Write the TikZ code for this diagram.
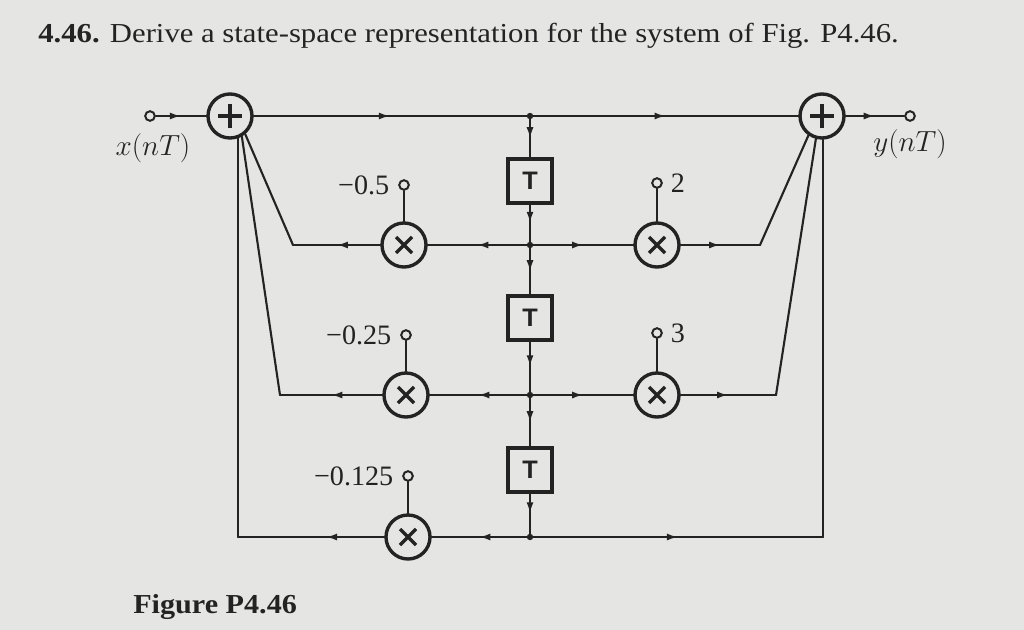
\documentclass[tikz,border=0pt]{standalone}
\usepackage{fontspec}
\setmainfont{Liberation Serif}
\setsansfont{Liberation Sans}
\usetikzlibrary{positioning,decorations.markings,arrows.meta}
\definecolor{paper}{RGB}{229,229,227}
\definecolor{ink}{RGB}{35,35,35}
\tikzset{
  wire/.style={ink, line width=1.5pt, line cap=round},
  midarrow/.style={postaction={decorate}, decoration={markings, mark=at position #1 with {\arrow{Latex[length=8pt,width=5pt]}}}},
  midarrow/.default=0.5,
  adder/.style={circle, draw=ink, line width=2.4pt, minimum size=1.1cm, inner sep=0pt,
    path picture={\draw[ink, line width=2.4pt] ([xshift=-3mm]path picture bounding box.center) -- ([xshift=3mm]path picture bounding box.center) ([yshift=-3mm]path picture bounding box.center) -- ([yshift=3mm]path picture bounding box.center);}},
  mult/.style={circle, draw=ink, line width=2.4pt, minimum size=1.1cm, inner sep=0pt,
    path picture={\draw[ink, line width=2.4pt] ([shift={(-2mm,-2mm)}]path picture bounding box.center) -- ([shift={(2mm,2mm)}]path picture bounding box.center) ([shift={(-2mm,2mm)}]path picture bounding box.center) -- ([shift={(2mm,-2mm)}]path picture bounding box.center);}},
  tbox/.style={draw=ink, line width=2.2pt, minimum size=1.1cm, inner sep=0pt, text=ink, font=\sffamily\bfseries\fontsize{18}{18}\selectfont},
  term/.style={circle, draw=ink, line width=1.4pt, fill=paper, minimum size=2.4mm, inner sep=0pt},
  jdot/.style={circle, fill=ink, minimum size=1.6mm, inner sep=0pt},
  lbl/.style={text=ink, font=\fontsize{20}{22}\selectfont},
  head/.style={text=ink, font=\fontsize{19.5}{22}\selectfont},
}

\begin{document}
\begin{tikzpicture}[x=0.025cm, y=-0.025cm]
    \fill[paper] (0,0) rectangle (1024,630);
    \useasboundingbox (0,0) rectangle (1024,630);

    % title and caption
    \node[head, anchor=base west, inner sep=0pt] (title) at (38,43) {\scalebox{1.12}[1]{\textbf{4.46.} Derive a state-space representation for the system of Fig. P4.46.}};
    \node[head, anchor=base west, inner sep=0pt] (caption) at (133,613) {\scalebox{1.1}[1]{\textbf{Figure P4.46}}};

    % input, output and the two adders
    \node[term] (in) at (150,116) {};
    \node[adder] (addL) at (230,116) {};
    \node[adder] (addR) at (822,116) {};
    \node[term] (out) at (910,116) {};
    \node[lbl] (xlab) at (153,148) {$x(nT)$};
    \node[lbl] (ylab) at (910,144) {$y(nT)$};

    % delay chain
    \node[jdot] (j0) at (530,116) {};
    \node[tbox] (T1) at (530,181) {T};
    \node[jdot] (j1) at (530,245) {};
    \node[tbox] (T2) at (530,318) {T};
    \node[jdot] (j2) at (530,395) {};
    \node[tbox] (T3) at (530,470) {T};
    \node[jdot] (j3) at (530,537) {};

    % multipliers and gains
    \node[mult] (mL1) at (404,245) {};
    \node[mult] (mL2) at (406,395) {};
    \node[mult] (mL3) at (408,537) {};
    \node[mult] (mR1) at (657,245) {};
    \node[mult] (mR2) at (657,395) {};
    \node[term] (gL1) at (404,185) {};
    \node[term] (gL2) at (406,335) {};
    \node[term] (gL3) at (408,476) {};
    \node[term] (gR1) at (657,183) {};
    \node[term] (gR2) at (657,333) {};
    \node[lbl, left=0.1cm of gL1] (kL1) {−0.5};
    \node[lbl, left=0.1cm of gL2] (kL2) {−0.25};
    \node[lbl, left=0.1cm of gL3] (kL3) {−0.125};
    \node[lbl, right=0.08cm of gR1] (kR1) {2};
    \node[lbl, right=0.08cm of gR2] (kR2) {3};

    % corners of the feedback and feedforward paths
    \coordinate (cL1) at (293,245);
    \coordinate (cL2) at (280,395);
    \coordinate (cL3) at (addL.-70 |- j3);
    \coordinate (cR1) at (760,245);
    \coordinate (cR2) at (776,395);
    \coordinate (cR3) at (addR.-88 |- j3);

    % main path
    \draw[wire,midarrow] (in) -- (addL);
    \draw[wire,midarrow] (addL) -- (j0);
    \draw[wire,midarrow] (j0) -- (addR);
    \draw[wire,midarrow] (addR) -- (out);
    \foreach \a/\b in {j0/T1,T1/j1,j1/T2,T2/j2,j2/T3,T3/j3}
        \draw[wire,midarrow] (\a) -- (\b);

    % gain stems
    \foreach \g/\m in {gL1/mL1,gL2/mL2,gL3/mL3,gR1/mR1,gR2/mR2}
        \draw[wire] (\g) -- (\m);

    % feedback to the left adder
    \draw[wire,midarrow] (j1) -- (mL1);
    \draw[wire,midarrow] (mL1) -- (cL1);
    \draw[wire] (cL1) -- (addL.-50);
    \draw[wire,midarrow] (j2) -- (mL2);
    \draw[wire,midarrow] (mL2) -- (cL2);
    \draw[wire] (cL2) -- (addL.-60);
    \draw[wire,midarrow] (j3) -- (mL3);
    \draw[wire,midarrow=0.4] (mL3) -- (cL3);
    \draw[wire] (cL3) -- (addL.-70);

    % feedforward to the right adder
    \draw[wire,midarrow] (j1) -- (mR1);
    \draw[wire,midarrow] (mR1) -- (cR1);
    \draw[wire] (cR1) -- (addR.-125);
    \draw[wire,midarrow] (j2) -- (mR2);
    \draw[wire,midarrow] (mR2) -- (cR2);
    \draw[wire] (cR2) -- (addR.-105);
    \draw[wire,midarrow] (j3) -- (cR3);
    \draw[wire] (cR3) -- (addR.-88);
\end{tikzpicture}
\end{document}
